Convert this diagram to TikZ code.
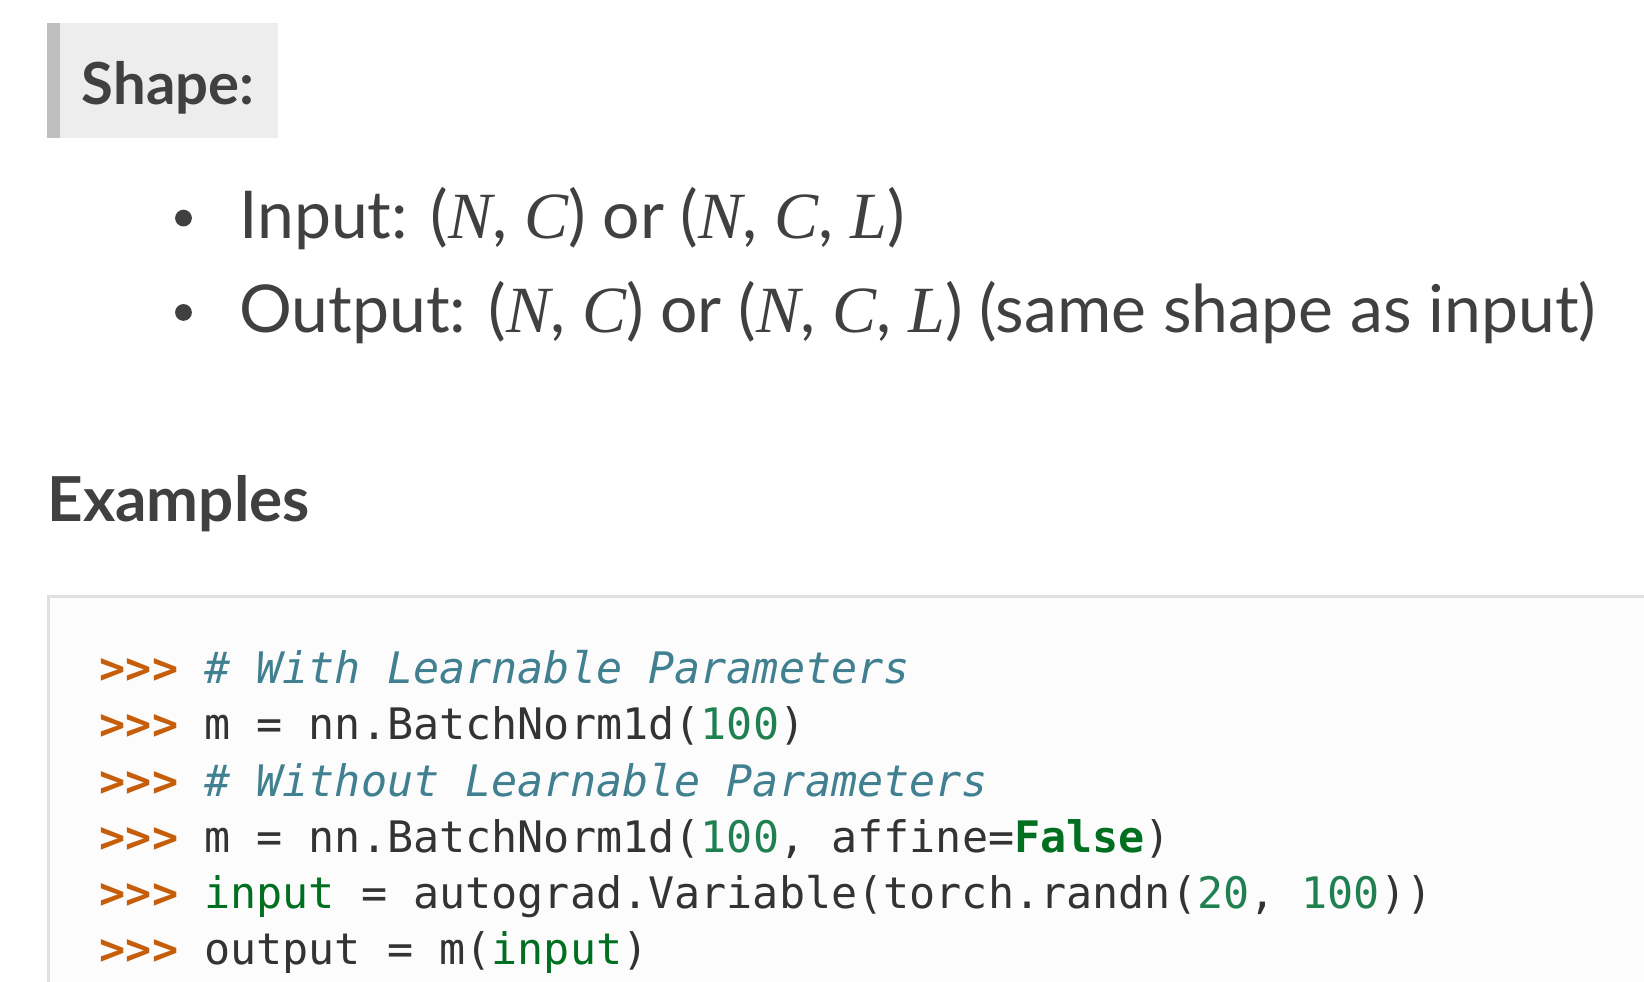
\documentclass[tikz,border=0pt]{standalone}
\usepackage{fontspec}
\setmainfont{Lato}
\setmonofont{DejaVu Sans Mono}
\newfontfamily\serifit{Liberation Serif}
\definecolor{txt}{HTML}{404040}
\definecolor{prompt}{HTML}{C65D09}
\definecolor{cmt}{HTML}{408090}
\definecolor{num}{HTML}{208050}
\definecolor{kw}{HTML}{007020}
\definecolor{code}{HTML}{333333}
\newcommand{\mi}[1]{{\serifit\itshape #1}}
\newcommand{\pr}{\textcolor{prompt}{\bfseries >{}>{}>}}
\tikzset{
  x=1.0485pt,y=-1.0485pt,
  body/.style={anchor=base west,inner sep=0,text=txt,font=\fontsize{66}{70}\selectfont},
  codeline/.style={anchor=base west,inner sep=0,text=code,font=\fontsize{43.4}{50}\selectfont\ttfamily},
}
\begin{document}
\begin{tikzpicture}
\useasboundingbox[fill=white] (0,0) rectangle (1568,936.6);
\fill[black!7] (45,22) rectangle (265,132);
\fill[black!25] (45,22) rectangle (57,132);
\node[body,font=\fontsize{58}{60}\selectfont\bfseries] (shape) at (78,100) {Shape:};
\fill[txt] (175,208) circle (8);
\fill[txt] (175,298) circle (8);
\node[body] (in) at (228,227) {Input: (\mi{N}, \mi{C}) or (\mi{N}, \mi{C}, \mi{L})};
\node[body] (out) at (228,317) {Output: (\mi{N}, \mi{C}) or (\mi{N}, \mi{C}, \mi{L}) (same shape as input)};
\node[body,font=\fontsize{62}{60}\selectfont\bfseries] (ex) at (45,497) {Examples};
\fill[black!1] (45,567) rectangle (1650,990);
\draw[black!12,line width=3] (1650,568.5) -- (46.5,568.5) -- (46.5,990);
\foreach \i/\t in {
 0/{\textcolor{cmt}{\itshape \# With Learnable Parameters}},
 1/{m = nn.BatchNorm1d(\textcolor{num}{100})},
 2/{\textcolor{cmt}{\itshape \# Without Learnable Parameters}},
 3/{m = nn.BatchNorm1d(\textcolor{num}{100}, affine=\textcolor{kw}{\bfseries False})},
 4/{\textcolor{kw}{input} = autograd.Variable(torch.randn(\textcolor{num}{20}, \textcolor{num}{100}))},
 5/{output = m(\textcolor{kw}{input})}}
 \node[codeline] (c\i) at (95,652+53.6*\i) {\pr\ \t};
\end{tikzpicture}
\end{document}
